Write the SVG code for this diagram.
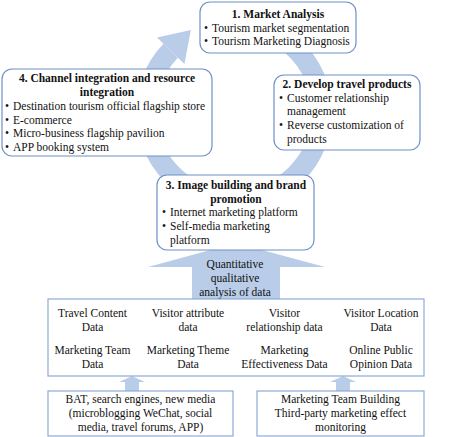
<svg xmlns="http://www.w3.org/2000/svg" width="474" height="437" viewBox="0 0 474 437">
<style>
text{font-family:"Liberation Serif","Times New Roman",serif;font-size:11.5px;fill:#111}
.t{font-weight:bold}
.c{text-anchor:middle}
.node{fill:#fff;stroke:#6f8fc6;stroke-width:1.2}
.box{fill:#fff;stroke:#8eaad6;stroke-width:1.2}
.flow{fill:#b9cde8;stroke:none}
</style>
<rect width="474" height="437" fill="#fff"/>
<g id="connectors">
<path d="M249.3,25.3 A88,88 0 1 1 170.7,50.8" fill="none" stroke="#b9cde8" stroke-width="20"/>
<polygon class="flow" points="157,37.6 190.9,30 184.4,64"/>
<polygon class="flow" points="148,267 236,243 325,267 280,267 280,299 192,299 192,267"/>
<polygon class="flow" points="119,382 132,376 145,382 139,382 139,391 125,391 125,382"/>
<polygon class="flow" points="330,382 343,376 356,382 350,382 350,391 336,391 336,382"/>
</g>
<g id="node1">
<rect class="node" x="200" y="2" width="156" height="51" rx="10"/>
<text class="t c" x="278" y="18">1. Market Analysis</text>
<text x="204" y="31.5">•</text><text x="212" y="31.5">Tourism market segmentation</text>
<text x="204" y="45">•</text><text x="212" y="45">Tourism Marketing Diagnosis</text>
</g>
<g id="node2">
<rect class="node" x="274" y="75" width="146" height="75" rx="10"/>
<text class="t c" x="347" y="88">2. Develop travel products</text>
<text x="279" y="101.5">•</text><text x="287" y="101.5">Customer relationship</text>
<text x="287" y="115">management</text>
<text x="279" y="129">•</text><text x="287" y="129">Reverse customization of</text>
<text x="287" y="142.5">products</text>
</g>
<g id="node3">
<rect class="node" x="157" y="175" width="157" height="75" rx="10"/>
<text class="t c" x="236" y="189">3. Image building and brand</text>
<text class="t c" x="236" y="202.5">promotion</text>
<text x="162" y="216">•</text><text x="170" y="216">Internet marketing platform</text>
<text x="162" y="230">•</text><text x="170" y="230">Self-media marketing</text>
<text x="170" y="243.5">platform</text>
</g>
<g id="node4">
<rect class="node" x="2" y="69" width="210" height="87" rx="10"/>
<text class="t c" x="107" y="82">4. Channel integration and resource</text>
<text class="t c" x="107" y="95.5">integration</text>
<text x="5" y="110">•</text><text x="13" y="110">Destination tourism official flagship store</text>
<text x="5" y="123.5">•</text><text x="13" y="123.5">E-commerce</text>
<text x="5" y="137">•</text><text x="13" y="137">Micro-business flagship pavilion</text>
<text x="5" y="150.5">•</text><text x="13" y="150.5">APP booking system</text>
</g>
<g id="analysis-label">
<text class="c" x="235" y="268">Quantitative</text>
<text class="c" x="235" y="282">qualitative</text>
<text class="c" x="235" y="296">analysis of data</text>
</g>
<g id="data">
<rect class="box" x="48" y="299" width="376" height="77"/>
<text class="c" x="92.5" y="317">Travel Content</text>
<text class="c" x="92.5" y="331">Data</text>
<text class="c" x="188" y="317">Visitor attribute</text>
<text class="c" x="188" y="331">data</text>
<text class="c" x="284.5" y="317">Visitor</text>
<text class="c" x="284.5" y="331">relationship data</text>
<text class="c" x="381" y="317">Visitor Location</text>
<text class="c" x="381" y="331">Data</text>
<text class="c" x="92.5" y="354">Marketing Team</text>
<text class="c" x="92.5" y="368">Data</text>
<text class="c" x="188" y="354">Marketing Theme</text>
<text class="c" x="188" y="368">Data</text>
<text class="c" x="284.5" y="354">Marketing</text>
<text class="c" x="284.5" y="368">Effectiveness Data</text>
<text class="c" x="381" y="354">Online Public</text>
<text class="c" x="381" y="368">Opinion Data</text>
</g>
<g id="source-left">
<rect class="box" x="48" y="391" width="185" height="45"/>
<text class="c" x="140.5" y="403">BAT, search engines, new media</text>
<text class="c" x="140.5" y="417">(microblogging WeChat, social</text>
<text class="c" x="140.5" y="431">media, travel forums, APP)</text>
</g>
<g id="source-right">
<rect class="box" x="257" y="391" width="167" height="45"/>
<text class="c" x="340.5" y="403">Marketing Team Building</text>
<text class="c" x="340.5" y="417">Third-party marketing effect</text>
<text class="c" x="340.5" y="431">monitoring</text>
</g>
</svg>
